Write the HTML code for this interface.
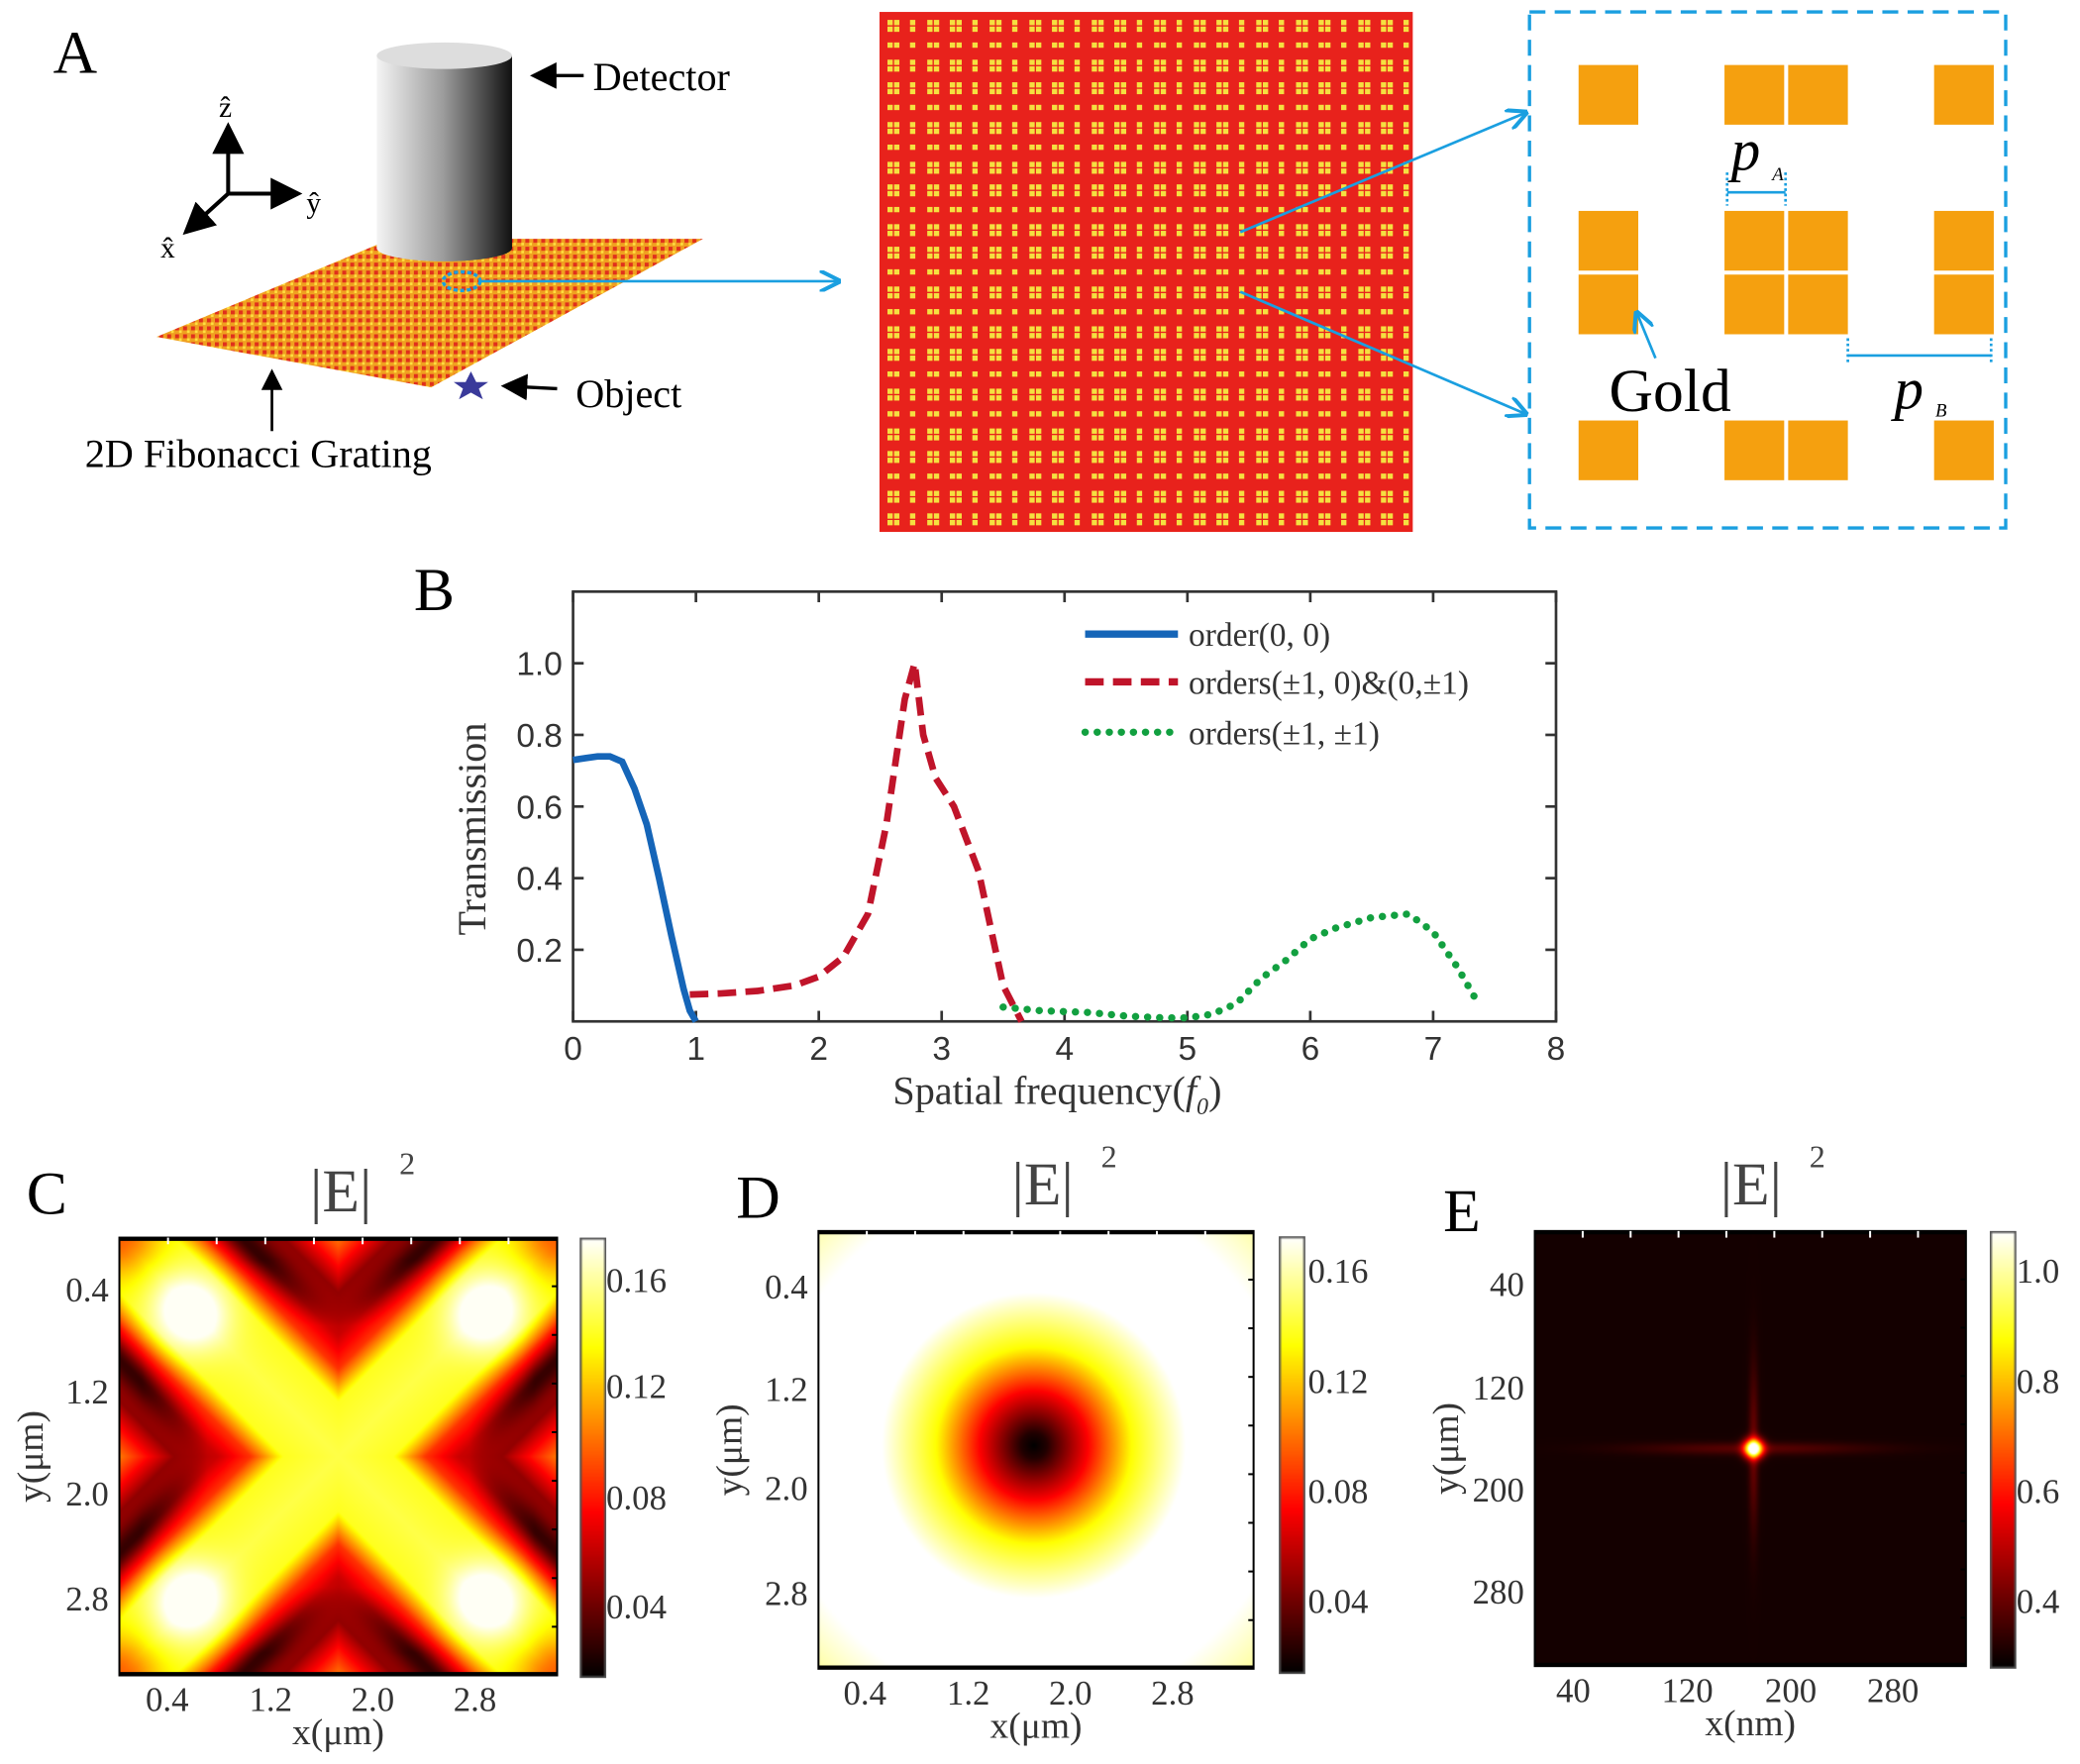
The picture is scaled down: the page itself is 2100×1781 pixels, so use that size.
<!DOCTYPE html>
<html><head><meta charset="utf-8"><style>
html,body{margin:0;padding:0;background:#fff;overflow:hidden}
#root{position:relative;width:1568px;height:1330px;transform:scale(1.33929);transform-origin:0 0}
#root svg,#root canvas{position:absolute}
text{font-family:"Liberation Serif",serif}
.sans{font-family:"Liberation Sans",sans-serif}
</style></head><body>
<div id="root">
<svg id="main" width="1568" height="1330" viewBox="0 0 1568 1330" style="left:0;top:0">
<defs>
<linearGradient id="cyl" x1="0" x2="1"><stop offset="0" stop-color="#f4f4f4"/><stop offset="0.5" stop-color="#9a9a9a"/><stop offset="1" stop-color="#111"/></linearGradient>
<pattern id="grat" width="6" height="6" patternUnits="userSpaceOnUse"><rect width="6" height="6" fill="#f0a020"/><rect x="0" y="0" width="3" height="3" fill="#e0301c"/><rect x="3" y="3" width="2" height="2" fill="#ffe040"/></pattern>
<marker id="ab" markerWidth="8" markerHeight="8" refX="7" refY="4" orient="auto"><path d="M0,0 L8,4 L0,8 z" fill="#000"/></marker>
<marker id="ac" markerWidth="8" markerHeight="8" refX="7" refY="4" orient="auto"><path d="M0,0 L8,4 L0,8" fill="none" stroke="#1a9fe0" stroke-width="1.5"/></marker>
</defs>
<text x="40" y="55" font-size="46">A</text>
<g><polygon points="118,254 295,180 530,180 325,292" fill="url(#grat)"/></g>
<g>
<rect x="284" y="42" width="102" height="145" fill="url(#cyl)"/>
<ellipse cx="335" cy="42" rx="51" ry="10" fill="#ddd"/>
<ellipse cx="335" cy="187" rx="51" ry="10" fill="url(#cyl)"/></g>
<ellipse cx="348" cy="212" rx="14" ry="7" fill="none" stroke="#1a9fe0" stroke-width="2.5" stroke-dasharray="3,2"/>
<line x1="362" y1="212" x2="632" y2="212" stroke="#1a9fe0" stroke-width="2" marker-end="url(#ac)"/>
<line x1="440" y1="57" x2="402" y2="57" stroke="#000" stroke-width="2.5" marker-end="url(#ab)"/>
<text x="447" y="68" font-size="30">Detector</text>
<polygon points="355,280 359,288 368,288 361,293 364,301 355,296 346,301 349,293 342,288 351,288" fill="#3a3a9a"/>
<line x1="420" y1="293" x2="380" y2="291" stroke="#000" stroke-width="2.5" marker-end="url(#ab)"/>
<text x="434" y="307" font-size="30">Object</text>
<line x1="205" y1="325" x2="205" y2="280" stroke="#000" stroke-width="2" marker-end="url(#ab)"/>
<text x="64" y="352" font-size="30">2D Fibonacci Grating</text>
<g stroke="#000" stroke-width="3">
<line x1="172" y1="146" x2="172" y2="95" marker-end="url(#ab)"/>
<line x1="172" y1="146" x2="225" y2="146" marker-end="url(#ab)"/>
<line x1="172" y1="146" x2="140" y2="175" marker-end="url(#ab)"/></g>
<text x="165" y="88" font-size="22">ẑ</text><text x="231" y="160" font-size="22">ŷ</text><text x="121" y="194" font-size="22">x̂</text>
<rect x="663" y="9" width="402" height="392" fill="#e8221c"/>
<g id="gratcells"></g>
<line x1="935" y1="175" x2="1150" y2="85" stroke="#1a9fe0" stroke-width="2" marker-end="url(#ac)"/>
<line x1="935" y1="220" x2="1150" y2="312" stroke="#1a9fe0" stroke-width="2" marker-end="url(#ac)"/>
<rect x="1153" y="9" width="359" height="389" fill="none" stroke="#1a9fe0" stroke-width="2.5" stroke-dasharray="12,7"/>
<g fill="#f5a00f">
<rect x="1190" y="49" width="45" height="45"/><rect x="1300" y="49" width="45" height="45"/><rect x="1348" y="49" width="45" height="45"/><rect x="1458" y="49" width="45" height="45"/>
<rect x="1190" y="159" width="45" height="45"/><rect x="1190" y="207" width="45" height="45"/><rect x="1300" y="159" width="45" height="45"/><rect x="1348" y="159" width="45" height="45"/><rect x="1300" y="207" width="45" height="45"/><rect x="1348" y="207" width="45" height="45"/><rect x="1458" y="159" width="45" height="45"/><rect x="1458" y="207" width="45" height="45"/>
<rect x="1190" y="317" width="45" height="45"/><rect x="1300" y="317" width="45" height="45"/><rect x="1348" y="317" width="45" height="45"/><rect x="1458" y="317" width="45" height="45"/></g>
<g stroke="#1a9fe0" stroke-width="2"><line x1="1302" y1="145" x2="1346" y2="145"/><line x1="1302" y1="130" x2="1302" y2="155" stroke-dasharray="2,2"/><line x1="1346" y1="130" x2="1346" y2="155" stroke-dasharray="2,2"/>
<line x1="1393" y1="268" x2="1501" y2="268"/><line x1="1393" y1="255" x2="1393" y2="275" stroke-dasharray="2,2"/><line x1="1501" y1="255" x2="1501" y2="275" stroke-dasharray="2,2"/>
<line x1="1248" y1="270" x2="1234" y2="236" marker-end="url(#ac)"/></g>
<text x="1305" y="128" font-size="44" font-style="italic">p</text><text x="1336" y="136" font-size="14" font-style="italic">A</text>
<text x="1428" y="308" font-size="44" font-style="italic">p</text><text x="1459" y="314" font-size="14" font-style="italic">B</text>
<text x="1213" y="310" font-size="46">Gold</text>
<text x="312" y="460" font-size="46">B</text>
<g id="chartB"></g>
<text x="20" y="915" font-size="46">C</text>
<text x="555" y="918" font-size="46">D</text>
<text x="1088" y="928" font-size="46">E</text>
</svg>
<canvas id="cC" width="330" height="330" style="left:90px;top:933px"></canvas>
<canvas id="cD" width="328" height="330" style="left:617px;top:928px"></canvas>
<canvas id="cE" width="325" height="328" style="left:1157px;top:928px"></canvas>
<canvas id="bC" width="20" height="332" style="left:437px;top:933px"></canvas>
<canvas id="bD" width="20" height="330" style="left:964px;top:932px"></canvas>
<canvas id="bE" width="20" height="330" style="left:1500px;top:928px"></canvas>
<svg width="1568" height="1330" viewBox="0 0 1568 1330" style="left:0;top:0;pointer-events:none" id="over"></svg>
</div>
<script>
const NS='http://www.w3.org/2000/svg';
function mk(p,tag,at,txt){const e=document.createElementNS(NS,tag);for(const k in at)e.setAttribute(k,at[k]);if(txt!=null)e.textContent=txt;p.appendChild(e);return e;}
const bCatX=[0,1,2,3,4,5,6,7,8];
const bYTicks=[0.2,0.4,0.6,0.8,1.0];
const blueX=[0,0.1,0.2,0.3,0.4,0.5,0.6,0.7,0.8,0.9,0.95,1.0];
const blueY=[0.73,0.735,0.74,0.74,0.725,0.65,0.55,0.4,0.24,0.09,0.03,0];
const redX=[0.95,1.2,1.5,1.8,2.0,2.2,2.4,2.55,2.7,2.78,2.85,2.95,3.1,3.3,3.5,3.65];
const redY=[0.075,0.078,0.085,0.1,0.125,0.18,0.3,0.55,0.9,1.0,0.8,0.68,0.6,0.42,0.1,0];
const greenX=[3.5,3.8,4.2,4.5,4.8,5.0,5.2,5.4,5.6,5.8,6.0,6.2,6.5,6.8,7.0,7.2,7.35];
const greenY=[0.04,0.03,0.025,0.015,0.01,0.01,0.02,0.05,0.12,0.17,0.23,0.26,0.29,0.3,0.25,0.15,0.06];
const L=432,R=1173,T=446,B=770;
const sx=v=>L+(R-L)*v/8, sy=v=>B-(B-T)*v/1.2;
const g=document.getElementById('chartB');
mk(g,'rect',{x:L,y:T,width:R-L,height:B-T,fill:'none',stroke:'#333','stroke-width':2});
bCatX.forEach(v=>{mk(g,'line',{x1:sx(v),x2:sx(v),y1:B,y2:B-8,stroke:'#333','stroke-width':2});mk(g,'line',{x1:sx(v),x2:sx(v),y1:T,y2:T+8,stroke:'#333','stroke-width':2});
 const t=mk(g,'text',{x:sx(v),y:B+29,'font-size':25,'text-anchor':'middle',class:'sans',fill:'#333'},String(v));});
bYTicks.forEach(v=>{mk(g,'line',{x1:L,x2:L+8,y1:sy(v),y2:sy(v),stroke:'#333','stroke-width':2});mk(g,'line',{x1:R,x2:R-8,y1:sy(v),y2:sy(v),stroke:'#333','stroke-width':2});
 const t=mk(g,'text',{x:L-8,y:sy(v)+9,'font-size':25,'text-anchor':'end',class:'sans',fill:'#333'},v.toFixed(1));});
let xt=mk(g,'text',{x:797,y:832,'font-size':30,'text-anchor':'middle',fill:'#333'});xt.innerHTML='Spatial frequency(<tspan font-style="italic">f</tspan><tspan font-size="18" dy="8" font-style="italic">0</tspan><tspan dy="-8">)</tspan>';

let yt=mk(g,'text',{x:0,y:0,'font-size':30,'text-anchor':'middle',fill:'#333',transform:'translate(366,625) rotate(-90)'},'Transmission');

function pts(X,Y){return X.map((x,i)=>sx(x)+','+sy(Y[i])).join(' ');}
let s1=mk(g,'polyline',{points:pts(blueX,blueY),fill:'none',stroke:'#1565b8','stroke-width':5});

let s2=mk(g,'polyline',{points:pts(redX,redY),fill:'none',stroke:'#c0142a','stroke-width':5,'stroke-dasharray':'14,7'});

let s3=mk(g,'polyline',{points:pts(greenX,greenY),fill:'none',stroke:'#12a040','stroke-width':5.5,'stroke-dasharray':'0.1,9','stroke-linecap':'round'});

const leg=[['order(0, 0)','#1565b8','none',478],['orders(±1, 0)&(0,±1)','#c0142a','14,7',514],['orders(±1, ±1)','#12a040','0.1,9',552]];
leg.forEach(l=>{const lg=mk(g,'g',{});
 mk(lg,'line',{x1:818,x2:888,y1:l[3],y2:l[3],stroke:l[1],'stroke-width':5.5,'stroke-dasharray':l[2],'stroke-linecap':l[2]=='0.1,9'?'round':'butt'});
 mk(lg,'text',{x:896,y:l[3]+9,'font-size':25,fill:'#333'},l[0]);});
const gc=document.getElementById('gratcells');const seq=[1,0,1,1,0,1,0,1,1,0,1,1,0,1,0,1,1,0,1,0,1,1,0,1,1,0];
let pos=[];let p=666;for(let i=0;i<26&&p<1062;i++){pos.push([p,seq[i]]);p+=seq[i]?17:13;}
let ys=[];p=12;for(let i=0;i<26&&p<398;i++){ys.push([p,seq[i]]);p+=seq[i]?17:13;}
pos.forEach(([x,a])=>ys.forEach(([y,b])=>{const w=a?2:1,h=b?2:1;for(let i=0;i<w;i++)for(let j=0;j<h;j++)mk(gc,'rect',{x:x+3+i*5,y:y+3+j*5,width:4,height:4,fill:'#f5e040'});}));
function hot(t){t=Math.max(0,Math.min(1,t));return[255*Math.min(1,t/0.375),255*Math.max(0,Math.min(1,(t-0.375)/0.375)),255*Math.max(0,Math.min(1,(t-0.75)/0.25))];}
function lerp(xs,yv,x){if(x<=xs[0])return yv[0];for(let i=1;i<xs.length;i++)if(x<=xs[i]){const f=(x-xs[i-1])/(xs[i]-xs[i-1]);return yv[i-1]+f*(yv[i]-yv[i-1]);}return yv[yv.length-1];}
function paint(id,fn){const c=document.getElementById(id),x=c.getContext('2d'),W=c.width,H=c.height,im=x.createImageData(W,H);
 for(let j=0;j<H;j++)for(let i=0;i<W;i++){const u=2*i/(W-1)-1,v=2*j/(H-1)-1,k=(j*W+i)*4,c3=hot(fn(u,v));im.data[k]=c3[0];im.data[k+1]=c3[1];im.data[k+2]=c3[2];im.data[k+3]=255;}x.putImageData(im,0,0);}
const cW=[0,0.25,0.4,0.55,0.75,1.0,1.2], cT=[0.82,0.78,0.45,0.3,0.22,0.55,0.6];
paint('cC',(u,v)=>{const au=Math.abs(u),av=Math.abs(v),w=Math.abs(au-av),m=Math.max(au,av);
 let t=lerp(cW,cT,w);
 t-=0.22*Math.exp(-((w-0.55)**2)/0.012)*Math.min(1,Math.max(0,(m-0.6)/0.3));
 t+=0.3*Math.exp(-(((au-0.68)**2)+((av-0.66)**2))/0.03);
 t-=0.3*Math.exp(-(((au-1)**2)+((av-1)**2))/0.03);
 return Math.max(0.04,Math.min(0.99,t));});
const dR=[0,0.06,0.25,0.45,0.7,1.2,1.45], dT=[0,0.05,0.375,0.75,1,1,0.9];
paint('cD',(u,v)=>lerp(dR,dT,Math.sqrt((u+0.01)*(u+0.01)+(v+0.02)*(v+0.02))));
paint('cE',(u,v)=>{const du=u-0.015,dv=v;let t=0.03+1.05*Math.exp(-(du*du+dv*dv)/0.0018)+0.12*Math.exp(-du*du/0.0005)*Math.exp(-dv*dv/0.15)+0.1*Math.exp(-dv*dv/0.0008)*Math.exp(-du*du/0.3);return t;});
['bC','bD','bE'].forEach(id=>{const c=document.getElementById(id),x=c.getContext('2d');for(let j=0;j<c.height;j++){const k=hot(1-j/(c.height-1));x.fillStyle=`rgb(${k[0]|0},${k[1]|0},${k[2]|0})`;x.fillRect(0,j,c.width,1);}x.strokeStyle='#555';x.lineWidth=3;x.strokeRect(0,0,c.width,c.height);});
const ov=document.getElementById('over');
function panel(n,x0,y0,w,h,xl,xp,yl,yp,cbx,cbl,cbp,xt,yt2,tx){
 const pg=mk(ov,'g',{});
 mk(pg,'rect',{x:x0,y:y0,width:w,height:h,fill:'none',stroke:'#000','stroke-width':1.5});
 mk(pg,'line',{x1:x0,x2:x0+w,y1:y0+1,y2:y0+1,stroke:'#000','stroke-width':3});mk(pg,'line',{x1:x0,x2:x0+w,y1:y0+h-1,y2:y0+h-1,stroke:'#000','stroke-width':3});
 for(let i=1;i<9;i++){const x=x0+w*i/9;mk(pg,'line',{x1:x,x2:x,y1:y0,y2:y0+5,stroke:'#fff','stroke-width':1.5});const y=y0+h*i/9;mk(pg,'line',{x1:x0+w-4,x2:x0+w,y1:y,y2:y,stroke:'#000','stroke-width':1.5});}
 xl.forEach((l,i)=>mk(pg,'text',{x:xp[i],y:y0+h+27,'font-size':26,'text-anchor':'middle',fill:'#333'},l));
 yl.forEach((l,i)=>mk(pg,'text',{x:x0-8,y:yp[i]+9,'font-size':26,'text-anchor':'end',fill:'#333'},l));
 cbl.forEach((l,i)=>mk(pg,'text',{x:cbx,y:cbp[i]+9,'font-size':26,fill:'#333'},l));
 mk(pg,'text',{x:x0+w/2,y:y0+h+52,'font-size':28,'text-anchor':'middle',fill:'#333'},xt);
 mk(pg,'text',{x:0,y:0,'font-size':28,'text-anchor':'middle',fill:'#333',transform:`translate(${x0-58},${y0+h/2}) rotate(-90)`},yt2);
 mk(pg,'text',{x:tx,y:y0-20,'font-size':46,fill:'#444','text-anchor':'middle'},'|E|');mk(pg,'text',{x:tx+44,y:y0-48,'font-size':24,fill:'#444'},'2');}
panel('c',90,933,330,330,['0.4','1.2','2.0','2.8'],[126,204,281,358],['0.4','1.2','2.0','2.8'],[972,1049,1126,1205],457,['0.16','0.12','0.08','0.04'],[965,1045,1129,1211],'x(μm)','y(μm)',257);
panel('d',617,928,328,330,['0.4','1.2','2.0','2.8'],[652,730,807,884],['0.4','1.2','2.0','2.8'],[970,1047,1122,1201],986,['0.16','0.12','0.08','0.04'],[958,1041,1124,1207],'x(μm)','y(μm)',786);
panel('e',1157,928,325,328,['40','120','200','280'],[1186,1272,1350,1427],['40','120','200','280'],[968,1046,1123,1200],1520,['1.0','0.8','0.6','0.4'],[958,1041,1124,1207],'x(nm)','y(μm)',1320);
</script>
</body></html>
